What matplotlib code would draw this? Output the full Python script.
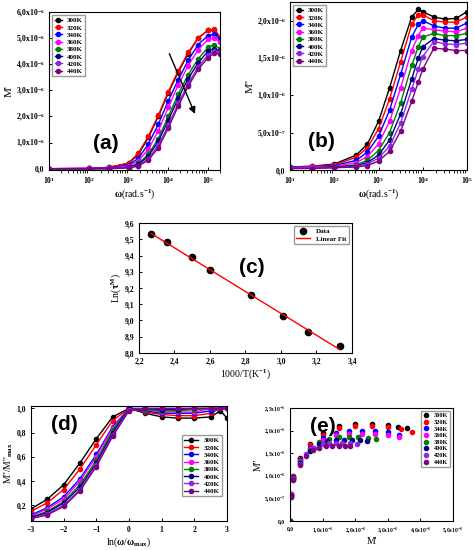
import matplotlib
matplotlib.use("Agg")
import matplotlib.pyplot as plt
from matplotlib.ticker import FuncFormatter
import numpy as np

plt.rcParams['font.family'] = ['Liberation Serif', 'DejaVu Serif']
plt.rcParams['font.weight'] = 'bold'
plt.rcParams['mathtext.fontset'] = 'custom'
plt.rcParams['mathtext.rm'] = 'Liberation Serif:bold'
plt.rcParams['mathtext.it'] = 'Liberation Serif:bold'
plt.rcParams['mathtext.bf'] = 'Liberation Serif:bold'

temps = ["300K", "320K", "340K", "360K", "380K", "400K", "420K", "440K"]
colors = ["black", "red", "blue", "magenta", "green", "navy", "blueviolet", "purple"]

# (a) M' vs log10(omega), values x1e-6
logw_a = [1, 2, 2.5, 3, 3.25, 3.5, 3.75, 4, 4.25, 4.5, 4.75, 5, 5.15, 5.3]
m1_a = [
    [0, 0.01, 0.05, 0.2, 0.55, 1.2, 2.0, 2.9, 3.7, 4.4, 5.0, 5.3, 5.3, 5.0],
    [0, 0.01, 0.05, 0.22, 0.6, 1.25, 2.05, 2.95, 3.75, 4.45, 5.0, 5.3, 5.35, 5.05],
    [0, 0.01, 0.03, 0.14, 0.4, 0.95, 1.7, 2.6, 3.4, 4.15, 4.75, 5.1, 5.15, 4.95],
    [0, 0.01, 0.02, 0.1, 0.3, 0.75, 1.45, 2.35, 3.2, 3.95, 4.55, 4.95, 5.0, 4.85],
    [0, 0, 0.01, 0.06, 0.2, 0.55, 1.15, 2.0, 2.85, 3.6, 4.2, 4.65, 4.75, 4.6],
    [0, 0, 0.01, 0.05, 0.17, 0.48, 1.05, 1.85, 2.7, 3.45, 4.05, 4.5, 4.6, 4.5],
    [0, 0, 0.01, 0.04, 0.12, 0.38, 0.9, 1.65, 2.5, 3.25, 3.9, 4.35, 4.5, 4.45],
    [0, 0, 0, 0.03, 0.1, 0.33, 0.8, 1.55, 2.4, 3.15, 3.8, 4.25, 4.42, 4.4],
]

# (b) M'' vs log10(omega), values x1e-6
logw_b = [1, 1.5, 2, 2.5, 2.75, 3, 3.25, 3.5, 3.75, 3.9, 4, 4.25, 4.5, 4.75, 5]
m2_b = [
    [0.04, 0.05, 0.08, 0.2, 0.35, 0.65, 1.1, 1.6, 2.05, 2.15, 2.12, 2.05, 2.02, 2.03, 2.12],
    [0.04, 0.05, 0.07, 0.17, 0.3, 0.55, 0.95, 1.45, 1.95, 2.08, 2.08, 2.0, 1.98, 1.98, 2.05],
    [0.04, 0.04, 0.06, 0.13, 0.24, 0.45, 0.8, 1.28, 1.78, 1.95, 2.0, 1.93, 1.9, 1.9, 1.97],
    [0.03, 0.04, 0.05, 0.1, 0.18, 0.35, 0.65, 1.1, 1.6, 1.8, 1.9, 1.88, 1.86, 1.85, 1.9],
    [0.03, 0.03, 0.04, 0.07, 0.13, 0.26, 0.5, 0.9, 1.4, 1.65, 1.78, 1.83, 1.8, 1.8, 1.83],
    [0.03, 0.03, 0.04, 0.06, 0.1, 0.2, 0.4, 0.75, 1.22, 1.5, 1.65, 1.76, 1.74, 1.73, 1.75],
    [0.03, 0.03, 0.03, 0.05, 0.08, 0.16, 0.32, 0.63, 1.08, 1.35, 1.52, 1.72, 1.69, 1.68, 1.7],
    [0.02, 0.02, 0.03, 0.04, 0.06, 0.12, 0.25, 0.52, 0.92, 1.18, 1.35, 1.63, 1.62, 1.6, 1.6],
]

# (c) Arrhenius plot
inv_t = [2.27, 2.36, 2.5, 2.6, 2.83, 3.01, 3.15, 3.33]
ln_tau = [9.53, 9.48, 9.39, 9.31, 9.155, 9.025, 8.93, 8.84]

# (d) scaled M''
lnw_d = [-3, -2.5, -2, -1.5, -1, -0.5, 0, 0.5, 1, 1.5, 2, 2.5, 2.8, 3]
scaled_d = [
    [0.17, 0.25, 0.37, 0.55, 0.75, 0.93, 1.0, 0.96, 0.93, 0.92, 0.92, 0.93, 0.98, 0.92],
    [0.15, 0.22, 0.33, 0.5, 0.7, 0.9, 1.0, 0.97, 0.95, 0.94, 0.94, 0.96, 1.0, 1.0],
    [0.12, 0.18, 0.27, 0.42, 0.62, 0.85, 1.0, 0.98, 0.96, 0.96, 0.96, 0.98, 1.0, 1.0],
    [0.11, 0.17, 0.25, 0.4, 0.6, 0.84, 1.0, 0.99, 0.97, 0.97, 0.97, 1.0, 1.0, 1.0],
    [0.1, 0.15, 0.23, 0.37, 0.57, 0.82, 1.0, 0.99, 0.98, 0.98, 0.99, 1.0, 1.0, 1.0],
    [0.1, 0.14, 0.22, 0.35, 0.55, 0.8, 1.0, 1.0, 0.99, 0.99, 1.0, 1.0, 1.0, 1.0],
    [0.09, 0.13, 0.2, 0.33, 0.53, 0.78, 0.99, 1.0, 1.0, 1.0, 1.0, 1.0, 1.0, 1.0],
    [0.09, 0.12, 0.19, 0.32, 0.52, 0.77, 0.98, 1.0, 1.0, 1.0, 1.0, 1.0, 1.0, 1.0],
]

# (e) Cole-Cole M'' vs M', x1e-6
m1_e = [
    [0, 0.02, 0.1, 0.3, 0.6, 1.0, 1.5, 2.0, 2.5, 3.0, 3.3, 3.6],
    [0, 0.02, 0.1, 0.3, 0.6, 1.0, 1.5, 2.0, 2.5, 3.0, 3.4, 3.75],
    [0, 0.02, 0.1, 0.3, 0.6, 1.0, 1.4, 1.8, 2.2, 2.6, 3.0, 3.35],
    [0, 0.02, 0.1, 0.3, 0.6, 1.0, 1.4, 1.8, 2.2, 2.6, 3.0, 3.35],
    [0, 0.02, 0.1, 0.3, 0.6, 0.9, 1.2, 1.5, 1.8, 2.1, 2.4, 2.65],
    [0, 0.02, 0.1, 0.3, 0.6, 0.9, 1.15, 1.4, 1.65, 1.9, 2.15, 2.35],
    [0, 0.02, 0.1, 0.3, 0.5, 0.75, 1.0, 1.2, 1.4, 1.6, 1.85, 2.05],
    [0, 0.02, 0.1, 0.3, 0.5, 0.7, 0.9, 1.1, 1.3, 1.5, 1.7, 1.85],
]
m2_e = [
    [0, 0.6, 1.0, 1.4, 1.7, 1.95, 2.1, 2.15, 2.15, 2.12, 2.09, 2.05],
    [0, 0.6, 1.0, 1.38, 1.68, 1.9, 2.05, 2.1, 2.1, 2.08, 2.03, 1.97],
    [0, 0.58, 0.98, 1.35, 1.62, 1.83, 1.95, 2.0, 2.0, 1.99, 1.96, 1.9],
    [0, 0.57, 0.96, 1.33, 1.6, 1.8, 1.9, 1.93, 1.93, 1.92, 1.9, 1.85],
    [0, 0.56, 0.95, 1.3, 1.58, 1.74, 1.82, 1.85, 1.85, 1.85, 1.84, 1.82],
    [0, 0.55, 0.94, 1.28, 1.55, 1.7, 1.77, 1.8, 1.8, 1.8, 1.79, 1.77],
    [0, 0.54, 0.92, 1.26, 1.48, 1.62, 1.7, 1.72, 1.72, 1.72, 1.72, 1.71],
    [0, 0.53, 0.9, 1.24, 1.43, 1.56, 1.62, 1.65, 1.65, 1.65, 1.65, 1.65],
]

W, H = 474, 550
fig = plt.figure(figsize=(W / 100, H / 100), dpi=100)

def add_ax(l, r, t, b):
    return fig.add_axes([l / W, 1 - b / H, (r - l) / W, (b - t) / H])

def sci(v, p, e):
    if abs(v) < 1e-12:
        return "0,0"
    return ("%.1f" % (v / 10 ** e)).replace(".", ",") + "x10$^{%d}$" % e

def sci_mixed(v, p):
    if v == 0:
        return "0,0"
    return sci(v, p, -7) if v < 1e-6 else sci(v, p, -6)

def comma(v, p, d=1):
    return ("%.*f" % (d, v)).replace(".", ",")

tk = dict(labelsize=5.5, direction='in', length=2, width=0.7)
ms = 3
leg = dict(fontsize=5, labelspacing=0.2, borderpad=0.3, fancybox=False, edgecolor='gray')

def panel_label(ax, s, x, y):
    ax.text(x, y, s, transform=ax.transAxes, fontsize=15, family='Liberation Sans',
            weight='bold', ha='center', va='center')

# (a)
ax = add_ax(49, 220, 12, 170)
for i in range(8):
    ax.plot(10 ** np.array(logw_a), np.array(m1_a[i]) * 1e-6, '-o', color=colors[i],
            ms=ms, lw=1, label=temps[i])
ax.set_xscale('log')
ax.set_xlim(10, 2e5)
ax.set_ylim(-0.05e-6, 6.0e-6)
ax.set_yticks(np.arange(0, 6.01e-6, 1e-6))
ax.yaxis.set_major_formatter(FuncFormatter(lambda v, p: sci(v, p, -6)))
ax.tick_params(**tk)
ax.set_xlabel(r"$\omega$(rad.s$^{-1}$)", fontsize=7, labelpad=1)
ax.set_ylabel("M'", fontsize=8, labelpad=1)
ax.legend(loc='upper left', handlelength=1, **leg)
ax.annotate("", xy=(5e4, 2.0e-6), xytext=(1e4, 4.5e-6),
            arrowprops=dict(arrowstyle='-|>', color='black', lw=1))
panel_label(ax, "(a)", 0.33, 0.17)

# (b)
ax = add_ax(290, 467, 2, 170)
for i in range(8):
    ax.plot(10 ** np.array(logw_b), np.array(m2_b[i]) * 1e-6, '-o', color=colors[i],
            ms=ms, lw=1, label=temps[i])
ax.set_xscale('log')
ax.set_xlim(10, 1e5)
ax.set_ylim(0, 2.25e-6)
ax.set_yticks([0, 0.5e-6, 1.0e-6, 1.5e-6, 2.0e-6])
ax.yaxis.set_major_formatter(FuncFormatter(sci_mixed))
ax.tick_params(**tk)
ax.set_xlabel(r"$\omega$(rad.s$^{-1}$)", fontsize=7, labelpad=1)
ax.set_ylabel("M''", fontsize=8, labelpad=1)
ax.legend(loc='upper left', handlelength=1, **leg)
panel_label(ax, "(b)", 0.18, 0.17)

# (c)
ax = add_ax(139, 352, 223, 353)
m, c = np.polyfit(inv_t, ln_tau, 1)
xs = np.array([min(inv_t), max(inv_t)])
ax.plot(inv_t, ln_tau, 'o', color='black', ms=4.5, label='Data')
ax.plot(xs, m * xs + c, '-', color='red', lw=1, label='Linear Fit')
ax.set_xlim(2.2, 3.4)
ax.set_ylim(8.8, 9.6)
ax.set_xticks(np.arange(2.2, 3.41, 0.2))
ax.set_yticks(np.arange(8.8, 9.61, 0.1))
ax.xaxis.set_major_formatter(FuncFormatter(comma))
ax.yaxis.set_major_formatter(FuncFormatter(comma))
ax.tick_params(**tk)
ax.set_xlabel("1000/T(K$^{-1}$)", fontsize=7, labelpad=1)
ax.set_ylabel(r"Ln($\tau^{M}$)", fontsize=7, labelpad=1)
ax.legend(loc='upper right', handlelength=2, **leg)
panel_label(ax, "(c)", 0.53, 0.66)

# (d)
ax = add_ax(31, 227, 406, 521)
for i in range(8):
    ax.plot(lnw_d, scaled_d[i], '-o', color=colors[i], ms=ms, lw=1, label=temps[i])
ax.set_xlim(-3, 3)
ax.set_ylim(0.07, 1.02)
ax.set_yticks([0.2, 0.4, 0.6, 0.8, 1.0])
ax.yaxis.set_major_formatter(FuncFormatter(comma))
ax.tick_params(**tk)
ax.set_xlabel(r"ln($\omega$/$\omega_{\mathrm{max}}$)", fontsize=7, labelpad=1)
ax.set_ylabel("M''/M''$_{\mathrm{max}}$", fontsize=7, labelpad=1)
ax.legend(loc='center right', bbox_to_anchor=(0.99, 0.48), handlelength=2, **leg)
panel_label(ax, "(d)", 0.17, 0.84)

# (e)
ax = add_ax(290, 453, 408, 521)
for i in range(8):
    ax.plot(np.array(m1_e[i]) * 1e-6, np.array(m2_e[i]) * 1e-6, 'o', color=colors[i],
            ms=ms, label=temps[i])
ax.set_xlim(0, 5.0e-6)
ax.set_ylim(0, 2.5e-6)
ax.set_xticks(np.arange(0, 5.01e-6, 1e-6))
ax.set_yticks(np.arange(0, 2.51e-6, 0.5e-6))
ax.xaxis.set_major_formatter(FuncFormatter(lambda v, p: sci(v, p, -6)))
ax.yaxis.set_major_formatter(FuncFormatter(sci_mixed))
ax.tick_params(direction='in', length=2, width=0.7, labelsize=4)
ax.set_xlabel("M'", fontsize=7, labelpad=1)
ax.set_ylabel("M''", fontsize=7, labelpad=1)
ax.legend(loc='upper right', handlelength=1, **dict(leg, fontsize=4.5))
panel_label(ax, "(e)", 0.2, 0.84)

fig.savefig("out.png", dpi=100)
